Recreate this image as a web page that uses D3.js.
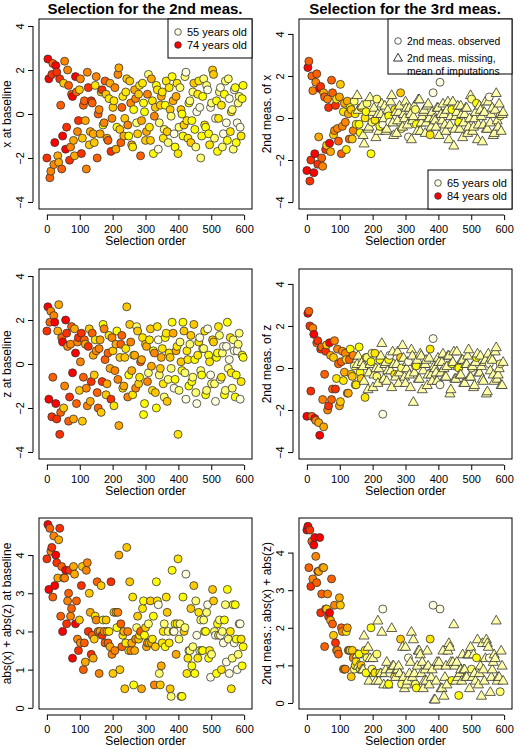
<!DOCTYPE html>
<html><head><meta charset="utf-8">
<script src="https://cdn.jsdelivr.net/npm/d3@7"></script>
<style>body{margin:0;background:#fff}text{font-family:"Liberation Sans",Arial,sans-serif}</style>
</head><body>
<script>
const ordersA = d3.range(100).map(i => i*6+3);
const ordersB = d3.range(100).map(i => i*6);
const ageL = [0,2,1,3,0,4,1,2,5,0,3,1,2,4,0,3,5,1,2,4, 3,5,1,4,6,2,3,5,7,2,4,6,1,5,3,7,4,2,6,5, 5,7,3,6,4,8,5,2,6,7,4,8,5,6,3,7,9,5,6,8, 6,8,5,7,9,4,6,8,7,5,9,6,8,7,5,8,6,9,7,8, 7,9,6,8,5,9,7,8,6,9,8,7,9,6,8,7,9,8,6,7];
const ageL2 = [1,0,3,2,0,1,4,2,0,3, 1,2,3,0,4,2,1,3,5,2, 3,1,4,2,5,3,2,4,1,3, 5,2,4,3,6,4,3,5,2,4, 6,3,5,4,7,3,5,6,4,7, 5,3,6,4,7,5,6,8,4,6, 7,5,6,8,4,7,6,8,5,7, 8,6,7,5,8,7,9,6,8,7, 6,8,7,9,5,8,7,6,9,8, 7,9,8,6,8,9,7,8,9,7];
const ageR = [0,1,2,0,3,1,0,2,4,1,3,0,2,5,1,3,4,2,6,3, 4,2,5,3,6,4,7,5,3,6,8,4,7,5,6,8,4,7,9,5, 6,7,5,8,6,7,8,5,7,8,6,9,7,8,6,7,9,8,7,8, 7,8,6,8,9,7,8,9,8,7,9,8,8,7,9,8,7,9,8,8, 8,9,7,8,9,8,8,9,7,9,8,8,9,8,8,9,8,9,8,8];
const ageR2 = [0,2,1,3,0,2,4,1,3,2, 5,1,4,2,3,6,2,5,3,4, 6,4,7,5,8,6,5,7,9,6, 7,8,6,8,7,9,8,7,8,6, 8,7,9,8,8,7,9,8,8,9, 7,8,9,8,7,8,9,8,8,7, 9,8,8,7,9,8,8,9,7,8, 8,9,7,8,8,9,8,7,9,8, 8,7,9,8,8,9,7,8,8,9, 8,8,9,7,8,8,9,8,8,7];
const shapeR = [0,0,0,0,0,0,0,0,0,0,0,0,0,0,0,0,0,0,0,0, 0,0,0,0,0,1,0,0,1,0,0,1,0,1,0,0,1,1,0,1, 1,0,1,1,0,1,1,0,1,1,1,0,1,1,1,0,1,1,1,1, 1,1,0,1,1,1,1,0,1,1,1,1,1,0,1,1,1,1,1,1, 1,1,1,0,1,1,1,1,1,1,1,1,0,1,1,1,1,1,1,1];
const shapeR2 = [0,0,0,0,0,0,0,0,0,0, 0,0,0,0,0,0,0,0,0,0, 0,0,0,0,0,0,1,0,1,1, 0,1,1,0,1,1,1,0,1,1, 1,1,0,1,1,1,1,1,0,1, 1,1,1,1,1,0,1,1,1,1, 1,1,1,1,0,1,1,1,1,1, 1,1,1,1,1,1,1,0,1,1, 1,1,1,1,1,1,0,1,1,1, 1,1,1,1,1,1,1,1,0,1];
const xBase = [2.5,-2.9,1.8,-2.3,2.2,-1.9,1.6,-2.5,1.4,-1.6,2.0,-2.1,0.9,-1.2,1.7,-0.8,1.1,-1.8,0.4,-0.3, 1.9,-1.4,0.6,-0.9,1.3,-2.0,0.2,1.0,-0.5,1.5,-1.1,0.7,-1.7,0.3,1.2,-0.6,2.1,-1.3,0.8,-0.2, 1.6,-1.0,0.5,-1.5,1.1,-0.4,0.9,-1.9,1.4,0.1,-0.8,1.8,-1.2,0.6,-0.1,1.3,-1.6,0.4,1.0,-0.7, 1.5,-1.3,0.2,1.7,-0.9,0.8,-1.8,1.2,0.0,-0.5,1.9,-1.1,0.6,-0.3,1.4,-1.5,0.9,0.3,-1.0,1.6, -0.6,1.1,-1.4,0.5,1.8,-0.2,-1.7,1.0,0.4,-0.9,1.5,-1.2,0.7,0.1,-1.6,1.2,-0.4,0.8,-1.0,1.3];
const xBase2 = [-2.0,1.6,-2.6,2.3,-1.3,1.9,-2.2,0.4,-1.0,2.4, -0.6,1.3,-1.5,0.8,-1.9,1.0,-0.3,1.6,-1.1,0.6, -2.5,1.2,-0.8,0.5,-1.3,1.7,0.0,-0.9,1.1,-0.4, 0.9,-1.2,1.4,-0.2,0.6,-1.6,1.8,-0.7,0.3,-1.0, 1.0,-0.5,1.5,-1.4,0.2,0.7,-0.9,1.3,-0.3,0.5, -1.2,0.9,-0.6,1.6,-1.8,0.3,1.1,-0.4,0.8,-1.1, 0.4,-0.8,1.2,-0.1,0.6,-1.5,1.4,-0.6,0.2,-1.0, 1.7,-0.3,0.5,-1.3,1.0,-0.7,0.1,1.5,-2.0,0.8, -0.5,1.3,-0.9,0.3,2.0,-1.1,0.6,-0.2,1.2,-1.5, 0.9,-0.4,1.6,-0.8,0.2,1.1,-1.3,0.5,-0.6,0.7];
const zBase = [2.6,1.9,-2.4,2.2,-1.8,1.5,-3.2,1.2,-2.0,2.0,0.8,-1.5,1.7,-2.5,0.5,1.0,-1.2,1.4,-0.6,0.9, -1.9,1.6,-0.8,0.4,1.1,-1.3,0.7,-2.2,1.8,0.2,-0.9,1.3,-1.6,0.6,-0.3,1.5,-2.8,0.9,-1.1,0.3, 2.6,-0.5,1.0,-1.4,0.4,1.7,-0.9,0.1,1.2,-1.8,0.8,-0.4,1.6,-1.2,0.5,-2.0,1.1,-0.2,0.7,-1.5, 1.4,-0.7,0.3,1.9,-1.1,0.6,-3.2,1.0,-0.3,1.5,-1.6,0.2,0.9,-0.8,1.8,-1.3,0.4,1.2,-0.5,0.7, -1.4,1.6,0.1,-0.9,1.0,-1.7,0.5,1.3,-0.6,0.8,-1.2,1.9,0.2,-0.4,1.1,-1.5,0.6,1.4,-0.8,0.3];
const zBase2 = [1.5,-1.6,2.4,-0.6,1.9,-2.5,2.7,-2.2,1.0,-1.0, 1.4,-2.6,0.9,-0.4,1.6,-1.8,1.2,0.1,-2.6,1.1, -1.1,0.8,-1.7,1.4,-0.5,0.6,-2.0,1.1,-0.8,1.6, -1.4,0.5,-0.2,1.2,-1.9,0.9,-0.7,0.3,1.3,-1.0, 0.7,-1.5,1.8,-0.3,0.4,-1.1,1.5,-0.6,0.2,-2.3, 0.9,-0.8,1.1,-0.1,0.6,-1.3,1.7,-0.5,0.3,-0.9, 1.2,-1.7,0.5,-0.2,1.4,-0.7,0.8,-1.2,0.1,1.9, -0.4,0.6,-1.0,1.3,-0.6,0.2,-1.8,1.0,-0.3,0.7, 1.5,-1.2,0.4,-0.5,1.1,-0.9,0.3,1.7,-0.7,0.5, -1.4,0.8,-0.2,1.2,-1.1,0.6,-0.5,0.9,-1.6,0.4];
const sBase = [4.8,4.7,4.2,4.5,4.0,3.4,4.7,3.7,3.4,3.6,2.8,3.6,2.6,3.7,2.2,1.8,2.3,3.2,1.0,1.2, 3.8,3.0,1.4,1.3,2.4,3.3,0.9,3.2,2.3,1.7,2.0,2.0,3.3,0.9,1.5,2.1,4.0,2.2,1.9,0.5, 4.2,1.5,1.5,2.9,1.5,2.1,1.8,2.0,2.6,1.9,1.6,2.2,2.8,1.8,0.6,3.3,2.7,0.6,1.7,2.2, 2.9,2.0,0.5,3.6,2.0,1.4,3.9,2.2,0.3,2.0,3.5,1.3,1.5,1.1,3.2,2.8,1.3,1.5,1.5,2.3, 2.0,2.7,1.5,1.4,2.8,1.9,2.2,2.3,1.0,1.7,2.7,3.1,0.9,0.5,2.7,2.7,1.0,2.2,1.8,1.6];
const sBase2 = [3.9,3.1,4.1,2.9,3.2,3.8,4.4,2.4,2.0,3.4, 2.2,3.0,2.4,1.3,3.5,2.8,1.5,1.7,3.7,1.7, 3.6,2.0,2.5,1.9,1.8,2.3,2.0,2.0,1.9,2.0, 2.3,1.7,1.6,1.4,2.5,2.5,2.5,1.0,1.6,2.0, 1.7,2.0,3.3,1.7,0.6,1.8,2.4,1.9,0.5,2.8, 2.1,1.7,1.7,1.7,2.4,1.6,2.8,0.9,1.1,2.0, 1.6,2.5,1.7,0.3,2.0,2.2,2.2,1.8,0.3,2.9, 2.1,0.9,1.5,2.6,1.6,0.9,1.9,2.5,2.3,1.5, 2.0,2.5,1.3,0.8,3.1,2.0,0.9,1.9,1.9,2.0, 2.3,1.2,1.8,2.0,1.3,1.7,1.8,1.4,2.2,1.1];
const x2 = [2.4,-3.0,2.0,-2.6,1.7,-2.2,1.4,-1.9,1.2,-1.5,0.9,-1.2,1.8,-0.8,0.6,-0.5,1.0,-1.7,0.3,-0.2, 0.8,-1.0,0.4,-0.6,0.2,1.1,-0.3,0.5,-0.8,0.0,0.7,-0.4,-1.7,0.3,-0.1,0.9,-0.6,0.2,-0.3,0.6, -0.5,0.1,0.8,-0.2,0.4,-0.7,0.3,1.2,-0.4,0.0,0.5,-0.9,0.2,-0.1,0.6,-0.3,0.9,-0.6,0.1,0.4, -0.2,0.7,-0.8,0.3,0.0,-0.4,0.5,1.7,-0.1,0.2,-0.6,0.8,-0.3,0.4,-1.3,0.1,0.6,-0.5,0.2,-0.2, 0.5,-0.7,0.0,0.9,-0.4,0.3,-1.0,0.6,0.1,-0.3,0.8,-0.5,1.0,0.2,-0.8,0.4,-0.1,0.7,-0.6,0.3];
const x2b = [-2.5,2.7,-2.0,1.3,-1.7,2.1,-0.9,1.5,-2.3,1.0, -1.3,0.5,-1.6,1.2,-0.6,0.9,-1.1,1.6,-0.4,0.7, -1.5,0.2,0.5,-1.0,0.8,-0.3,0.4,-0.7,0.6,-1.2, 0.3,-0.5,1.0,-0.2,0.5,-0.9,0.2,-0.4,0.7,0.0, -0.6,0.4,-0.2,1.1,-0.8,0.3,-0.1,0.6,-0.5,0.2, 0.8,-0.3,0.5,-1.0,0.1,0.4,-0.6,0.9,-0.2,0.3, -0.7,0.6,0.0,-0.4,1.2,-0.1,0.5,-0.8,0.2,0.7, -0.3,0.4,-1.0,0.1,0.8,-0.5,0.3,-0.2,0.6,-0.9, 0.2,0.5,-0.4,1.1,-0.6,0.0,0.7,-0.3,0.4,-1.1, 0.3,-0.5,0.8,-0.2,0.5,-0.7,1.2,-0.4,0.1,0.2];
const z2 = [2.6,2.0,-2.3,1.6,-2.5,1.3,-3.2,1.0,-2.8,0.8,-2.0,1.2,-1.5,0.5,-1.0,0.9,-1.8,0.3,-0.6,0.7, -1.2,0.4,-0.3,0.6,-0.8,0.2,1.0,-0.5,0.1,-1.4,0.5,-0.2,0.3,-0.9,0.7,-0.4,0.0,0.6,-2.2,0.2, -0.6,0.4,-0.1,0.8,-0.3,0.2,-0.7,0.5,1.1,-0.4,0.0,0.3,-0.9,0.6,-0.2,0.1,-0.5,0.7,-1.0,0.2, 0.4,-0.3,0.9,-0.6,0.1,-0.2,0.5,-0.8,0.3,0.0,-0.4,0.6,-1.2,0.2,0.8,-0.5,0.1,-0.3,0.4,-0.7, 0.2,0.6,-0.4,0.0,-0.9,0.3,0.7,-0.2,0.1,-0.6,0.4,-1.1,0.2,0.5,-0.3,0.8,-0.5,0.0,-0.8,0.3];
const z2b = [-2.3,2.7,-1.1,1.9,-2.4,1.2,-2.6,0.9,-1.5,-0.3, 1.1,-1.8,0.6,-1.0,1.3,-0.5,0.2,-1.6,0.8,-0.2, 0.4,-1.2,0.9,-0.4,0.1,-0.8,0.6,-0.2,0.3,-0.6, 0.5,-1.0,0.2,0.7,-0.3,0.0,-0.7,0.4,1.2,-0.5, 0.3,-0.1,0.6,-0.9,0.2,-0.4,0.8,-0.2,0.0,0.5, -0.7,0.3,-0.3,0.9,-1.6,0.1,0.4,-0.5,0.6,-0.1, 0.2,-0.8,0.5,-0.3,1.4,0.0,-0.6,0.3,-0.2,0.7, -0.4,0.1,0.6,-1.0,0.3,-0.5,0.8,0.0,-0.3,0.4, -0.7,0.2,0.9,-0.4,0.1,-0.8,0.5,-0.2,0.6,-0.5, 0.3,-1.2,0.7,-0.1,0.4,-0.6,1.0,-0.3,0.2,-0.8];
const s2 = [4.7,4.6,4.3,4.2,3.9,3.5,4.4,2.9,3.6,2.5,2.9,2.4,3.3,1.8,1.6,1.4,2.8,2.0,0.9,0.9, 2.0,1.4,0.7,1.2,1.0,1.3,1.3,1.0,0.9,1.4,1.2,0.6,2.0,1.2,0.8,1.3,0.6,0.8,2.5,0.8, 1.1,0.5,0.9,1.0,0.7,0.9,1.0,1.7,1.5,0.4,0.5,1.2,1.1,0.7,0.8,0.4,1.4,1.3,1.1,0.6, 0.6,1.0,1.7,0.9,0.1,0.6,1.0,2.5,0.4,0.2,1.0,1.4,1.5,0.6,2.1,0.6,0.7,0.8,0.6,0.9, 0.7,1.3,0.4,0.9,1.3,0.6,1.7,0.8,0.2,0.9,1.2,1.6,1.2,0.7,1.1,1.2,0.6,0.7,1.4,0.6];
const s2b = [4.6,3.6,3.1,3.3,4.4,3.2,3.5,2.4,3.6,1.5, 2.5,2.3,2.2,2.1,2.6,1.4,1.3,2.6,1.9,0.9, 1.9,1.4,1.4,1.4,0.9,1.1,1.0,0.9,0.9,1.8, 0.8,1.5,1.2,0.9,0.8,0.6,2.2,0.8,1.9,0.5, 0.9,0.5,0.8,2.0,1.0,0.7,0.9,0.8,0.5,0.7, 1.5,0.6,0.8,1.9,1.7,0.5,1.0,1.4,0.8,0.4, 0.9,1.4,0.5,0.7,2.6,0.1,1.1,1.1,0.4,1.4, 0.7,0.5,1.6,1.1,1.1,1.0,1.1,0.2,0.9,1.3, 0.9,0.7,1.3,1.5,0.7,0.8,1.2,0.5,1.0,1.6, 0.6,1.7,1.5,0.3,0.9,1.3,2.2,0.7,0.3,1.0];
const xTicks = [0,100,200,300,400,500,600];
const palette = ["#ff0000","#ff3000","#ff6000","#ff8400","#ffa800","#ffc800","#ffe600","#ffff00","#ffff70","#ffffe0"];

const svg = d3.select("body").append("svg").attr("width",520).attr("height",750);
const cols = [{x0:39,x1:252},{x0:299,x1:512}];
const rows = [{y0:19,y1:209},{y0:269,y1:459},{y0:518,y1:709}];
const panels = [
 {c:0,r:0,y:xBase,y2:xBase2,age:ageL,age2:ageL2,dom:[-4.32,4.32],ticks:[-4,-2,0,2,4],lab:"x at baseline"},
 {c:0,r:1,y:zBase,y2:zBase2,age:ageL,age2:ageL2,dom:[-4.32,4.32],ticks:[-4,-2,0,2,4],lab:"z at baseline"},
 {c:0,r:2,y:sBase,y2:sBase2,age:ageL,age2:ageL2,dom:[-0.03,4.97],ticks:[0,1,2,3,4],lab:"abs(x) + abs(z) at baseline"},
 {c:1,r:0,y:x2,y2:x2b,age:ageR,age2:ageR2,shape:shapeR,shape2:shapeR2,dom:[-4.33,4.71],ticks:[-4,-2,0,2,4],lab:"2nd meas. of x"},
 {c:1,r:1,y:z2,y2:z2b,age:ageR,age2:ageR2,shape:shapeR,shape2:shapeR2,dom:[-4.33,4.71],ticks:[-4,-2,0,2,4],lab:"2nd meas. of z"},
 {c:1,r:2,y:s2,y2:s2b,age:ageR,age2:ageR2,shape:shapeR,shape2:shapeR2,dom:[-0.16,4.92],ticks:[0,1,2,3,4],lab:"2nd meas.: abs(x) + abs(z)"}
];
panels.forEach(p=>{
  const C=cols[p.c], R=rows[p.r];
  const x=d3.scaleLinear().domain([-24,624]).range([C.x0,C.x1]);
  const y=d3.scaleLinear().domain(p.dom).range([R.y1,R.y0]);
  const g=svg.append("g");
  const pts=ordersA.map((o,i)=>({o,v:p.y[i],a:p.age[i],s:p.shape?p.shape[i]:0}))
    .concat(ordersB.map((o,i)=>({o,v:p.y2[i],a:p.age2[i],s:p.shape2?p.shape2[i]:0})))
    .sort((a,b)=>a.o-b.o);
  pts.forEach(d=>{
    if(d.s){
      g.append("path").attr("d",d3.symbol(d3.symbolTriangle,44)())
       .attr("transform",`translate(${x(d.o)},${y(d.v)+0.8})`)
       .attr("fill","#ffffa8").attr("stroke","#333").attr("stroke-width",0.8);
    } else {
      g.append("circle").attr("cx",x(d.o)).attr("cy",y(d.v)).attr("r",4)
       .attr("fill",palette[d.a]).attr("stroke","#333").attr("stroke-width",0.8);
    }
  });
  g.append("rect").attr("x",C.x0).attr("y",R.y0).attr("width",C.x1-C.x0).attr("height",R.y1-R.y0)
   .attr("fill","none").attr("stroke","#000").attr("stroke-width",1);
  const ax=g.append("g").attr("transform",`translate(0,${R.y1+6})`)
   .call(d3.axisBottom(x).tickValues(xTicks).tickSize(5).tickSizeOuter(0));
  ax.select(".domain").attr("d",`M${x(0)},0H${x(600)}`);
  ax.selectAll("text").attr("font-size",11).attr("dy","0.9em").attr("font-family","Liberation Sans, Arial");
  const ay=g.append("g").attr("transform",`translate(${C.x0-6},0)`)
   .call(d3.axisLeft(y).tickValues(p.ticks).tickFormat(d3.format("d")).tickSize(5).tickSizeOuter(0));
  ay.select(".domain").attr("d",`M0,${y(p.ticks[0])}V${y(p.ticks[p.ticks.length-1])}`);
  ay.selectAll("text").attr("font-size",11).attr("font-family","Liberation Sans, Arial")
   .attr("transform","rotate(-90)").attr("x",0).attr("y",-9).attr("dy","0").attr("text-anchor","middle");
  g.append("text").attr("x",(C.x0+C.x1)/2).attr("y",R.y1+36).attr("text-anchor","middle")
   .attr("font-size",12).text("Selection order");
  g.append("text").attr("transform",`translate(${C.x0-28},${(R.y0+R.y1)/2}) rotate(-90)`)
   .attr("text-anchor","middle").attr("font-size",12).text(p.lab);
});
svg.append("text").attr("x",145).attr("y",14).attr("text-anchor","middle").attr("font-size",15).attr("font-weight","bold").text("Selection for the 2nd meas.");
svg.append("text").attr("x",405).attr("y",14).attr("text-anchor","middle").attr("font-size",15).attr("font-weight","bold").text("Selection for the 3rd meas.");
function legend(x0,y0,w,h,items){
  svg.append("rect").attr("x",x0).attr("y",y0).attr("width",w).attr("height",h).attr("fill","#fff").attr("stroke","#000");
  items.forEach(it=>{
    if(it.tri) svg.append("path").attr("d",d3.symbol(d3.symbolTriangle,34)()).attr("transform",`translate(${x0+10},${it.y+0.5})`).attr("fill","none").attr("stroke","#000").attr("stroke-width",0.8);
    else svg.append("circle").attr("cx",x0+10).attr("cy",it.y).attr("r",3.3).attr("fill",it.fill).attr("stroke","#333").attr("stroke-width",0.8);
    (Array.isArray(it.t)?it.t:[it.t]).forEach((t,k)=>svg.append("text").attr("x",x0+19).attr("y",it.y+4+k*13).attr("font-size",it.fs||11).text(t));
  });
}
legend(168,19,84,39,[{fill:"#ffffe0",y:32,t:"55 years old"},{fill:"#ff0000",y:45,t:"74 years old"}]);
legend(388,19,124,55,[{fill:"none",y:41,fs:10.3,t:"2nd meas. observed"},{tri:1,y:58,fs:10.3,t:["2nd meas. missing,","mean of imputations"]}]);
legend(428,170,84,39,[{fill:"#ffffe0",y:183,t:"65 years old"},{fill:"#ff0000",y:196,t:"84 years old"}]);
</script>
</body></html>
